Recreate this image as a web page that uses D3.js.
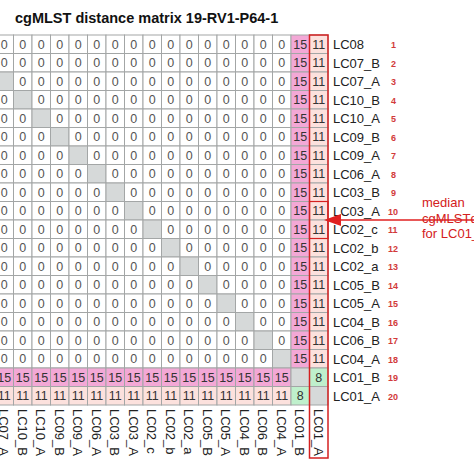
<!DOCTYPE html>
<html><head><meta charset="utf-8">
<script src="https://cdn.jsdelivr.net/npm/d3@7"></script>
<style>body{margin:0;background:#fff}</style></head>
<body><svg id="c" width="474" height="474"></svg>
<script>
const title = "cgMLST distance matrix 19-RV1-P64-1";
const isolates = ["LC08","LC07_B","LC07_A","LC10_B","LC10_A","LC09_B","LC09_A","LC06_A","LC03_B","LC03_A","LC02_c","LC02_b","LC02_a","LC05_B","LC05_A","LC04_B","LC06_B","LC04_A","LC01_B","LC01_A"];
const distances = [
 [null,0,0,0,0,0,0,0,0,0,0,0,0,0,0,0,0,0,15,11],
 [0,null,0,0,0,0,0,0,0,0,0,0,0,0,0,0,0,0,15,11],
 [0,0,null,0,0,0,0,0,0,0,0,0,0,0,0,0,0,0,15,11],
 [0,0,0,null,0,0,0,0,0,0,0,0,0,0,0,0,0,0,15,11],
 [0,0,0,0,null,0,0,0,0,0,0,0,0,0,0,0,0,0,15,11],
 [0,0,0,0,0,null,0,0,0,0,0,0,0,0,0,0,0,0,15,11],
 [0,0,0,0,0,0,null,0,0,0,0,0,0,0,0,0,0,0,15,11],
 [0,0,0,0,0,0,0,null,0,0,0,0,0,0,0,0,0,0,15,11],
 [0,0,0,0,0,0,0,0,null,0,0,0,0,0,0,0,0,0,15,11],
 [0,0,0,0,0,0,0,0,0,null,0,0,0,0,0,0,0,0,15,11],
 [0,0,0,0,0,0,0,0,0,0,null,0,0,0,0,0,0,0,15,11],
 [0,0,0,0,0,0,0,0,0,0,0,null,0,0,0,0,0,0,15,11],
 [0,0,0,0,0,0,0,0,0,0,0,0,null,0,0,0,0,0,15,11],
 [0,0,0,0,0,0,0,0,0,0,0,0,0,null,0,0,0,0,15,11],
 [0,0,0,0,0,0,0,0,0,0,0,0,0,0,null,0,0,0,15,11],
 [0,0,0,0,0,0,0,0,0,0,0,0,0,0,0,null,0,0,15,11],
 [0,0,0,0,0,0,0,0,0,0,0,0,0,0,0,0,null,0,15,11],
 [0,0,0,0,0,0,0,0,0,0,0,0,0,0,0,0,0,null,15,11],
 [15,15,15,15,15,15,15,15,15,15,15,15,15,15,15,15,15,15,null,8],
 [11,11,11,11,11,11,11,11,11,11,11,11,11,11,11,11,11,11,8,null]
];
const annotation = ["median","cgMLSTd","for LC01_"];

const svg = d3.select("#c");
const cw = 18.5;
const x = d3.scaleBand().domain(d3.range(20)).range([309.5 - 19*cw, 309.5 + cw]);
const y = d3.scaleBand().domain(d3.range(20)).range([35, 35 + 20*18.5]);
const color = v => v === null ? "#d6d9d9" : v === 15 ? "#f3a8d6" : v === 11 ? "#fce1dd" : v === 8 ? "#bff0cc" : "#ffffff";

svg.append("text").attr("x",15).attr("y",23).attr("font-family","Liberation Sans, Arial").attr("font-weight","bold").attr("font-size",14.5).attr("fill","#111").text(title);

const cells = [];
distances.forEach((row,i)=>row.forEach((v,j)=>cells.push({i,j,v})));
const g = svg.append("g");
g.selectAll("rect").data(cells).join("rect")
 .attr("x",d=>x(d.j)).attr("y",d=>y(d.i)).attr("width",x.bandwidth()).attr("height",y.bandwidth())
 .attr("fill",d=>color(d.v)).attr("stroke","#a3a6a6").attr("stroke-width",1);
g.selectAll("text").data(cells.filter(d=>d.v!==null)).join("text")
 .attr("x",d=>x(d.j)+x.bandwidth()/2).attr("y",d=>y(d.i)+y.bandwidth()/2+4.5)
 .attr("text-anchor","middle").attr("font-family","Liberation Sans, Arial").attr("font-size",12.5)
 .attr("fill",d=>d.v===0?"#555":"#333").text(d=>d.v);

svg.selectAll(".rl").data(isolates).join("text").attr("class","rl")
 .attr("x",333).attr("y",(d,i)=>y(i)+y.bandwidth()/2+5)
 .attr("font-family","Liberation Sans, Arial").attr("font-size",13).attr("fill","#222").text(d=>d);
svg.selectAll(".rn").data(isolates).join("text").attr("class","rn")
 .attr("x",(d,i)=>i<9?391:388).attr("y",(d,i)=>y(i)+y.bandwidth()/2+4)
 .attr("font-family","Liberation Sans, Arial").attr("font-size",9).attr("font-weight","bold").attr("fill","#d23a3a").text((d,i)=>i+1);
svg.selectAll(".cl").data(isolates).join("text").attr("class","cl")
 .attr("transform",(d,i)=>`translate(${x(i)+x.bandwidth()/2-5},409) rotate(90)`)
 .attr("font-family","Liberation Sans, Arial").attr("font-size",13).attr("fill","#222").text(d=>d);

svg.append("rect").attr("x",x(19)).attr("y",y(0)).attr("width",cw).attr("height",458-y(0))
 .attr("fill","none").attr("stroke","#d42020").attr("stroke-width",1.5);
svg.append("rect").attr("x",x(19)).attr("y",y(9)).attr("width",cw).attr("height",y.bandwidth()*2)
 .attr("fill","none").attr("stroke","#d42020").attr("stroke-width",1.2);
svg.append("line").attr("x1",474).attr("x2",340).attr("y1",y(10)).attr("y2",y(10)).attr("stroke","#e02020").attr("stroke-width",1.5);
svg.append("path").attr("d",`M324,${y(10)} L341,${y(10)-6} L341,${y(10)+6} Z`).attr("fill","#e02020");
svg.selectAll(".an").data(annotation).join("text").attr("class","an")
 .attr("x",422).attr("y",(d,i)=>207+i*15.5)
 .attr("font-family","Liberation Sans, Arial").attr("font-size",13).attr("fill","#d42020").text(d=>d);
</script></body></html>
